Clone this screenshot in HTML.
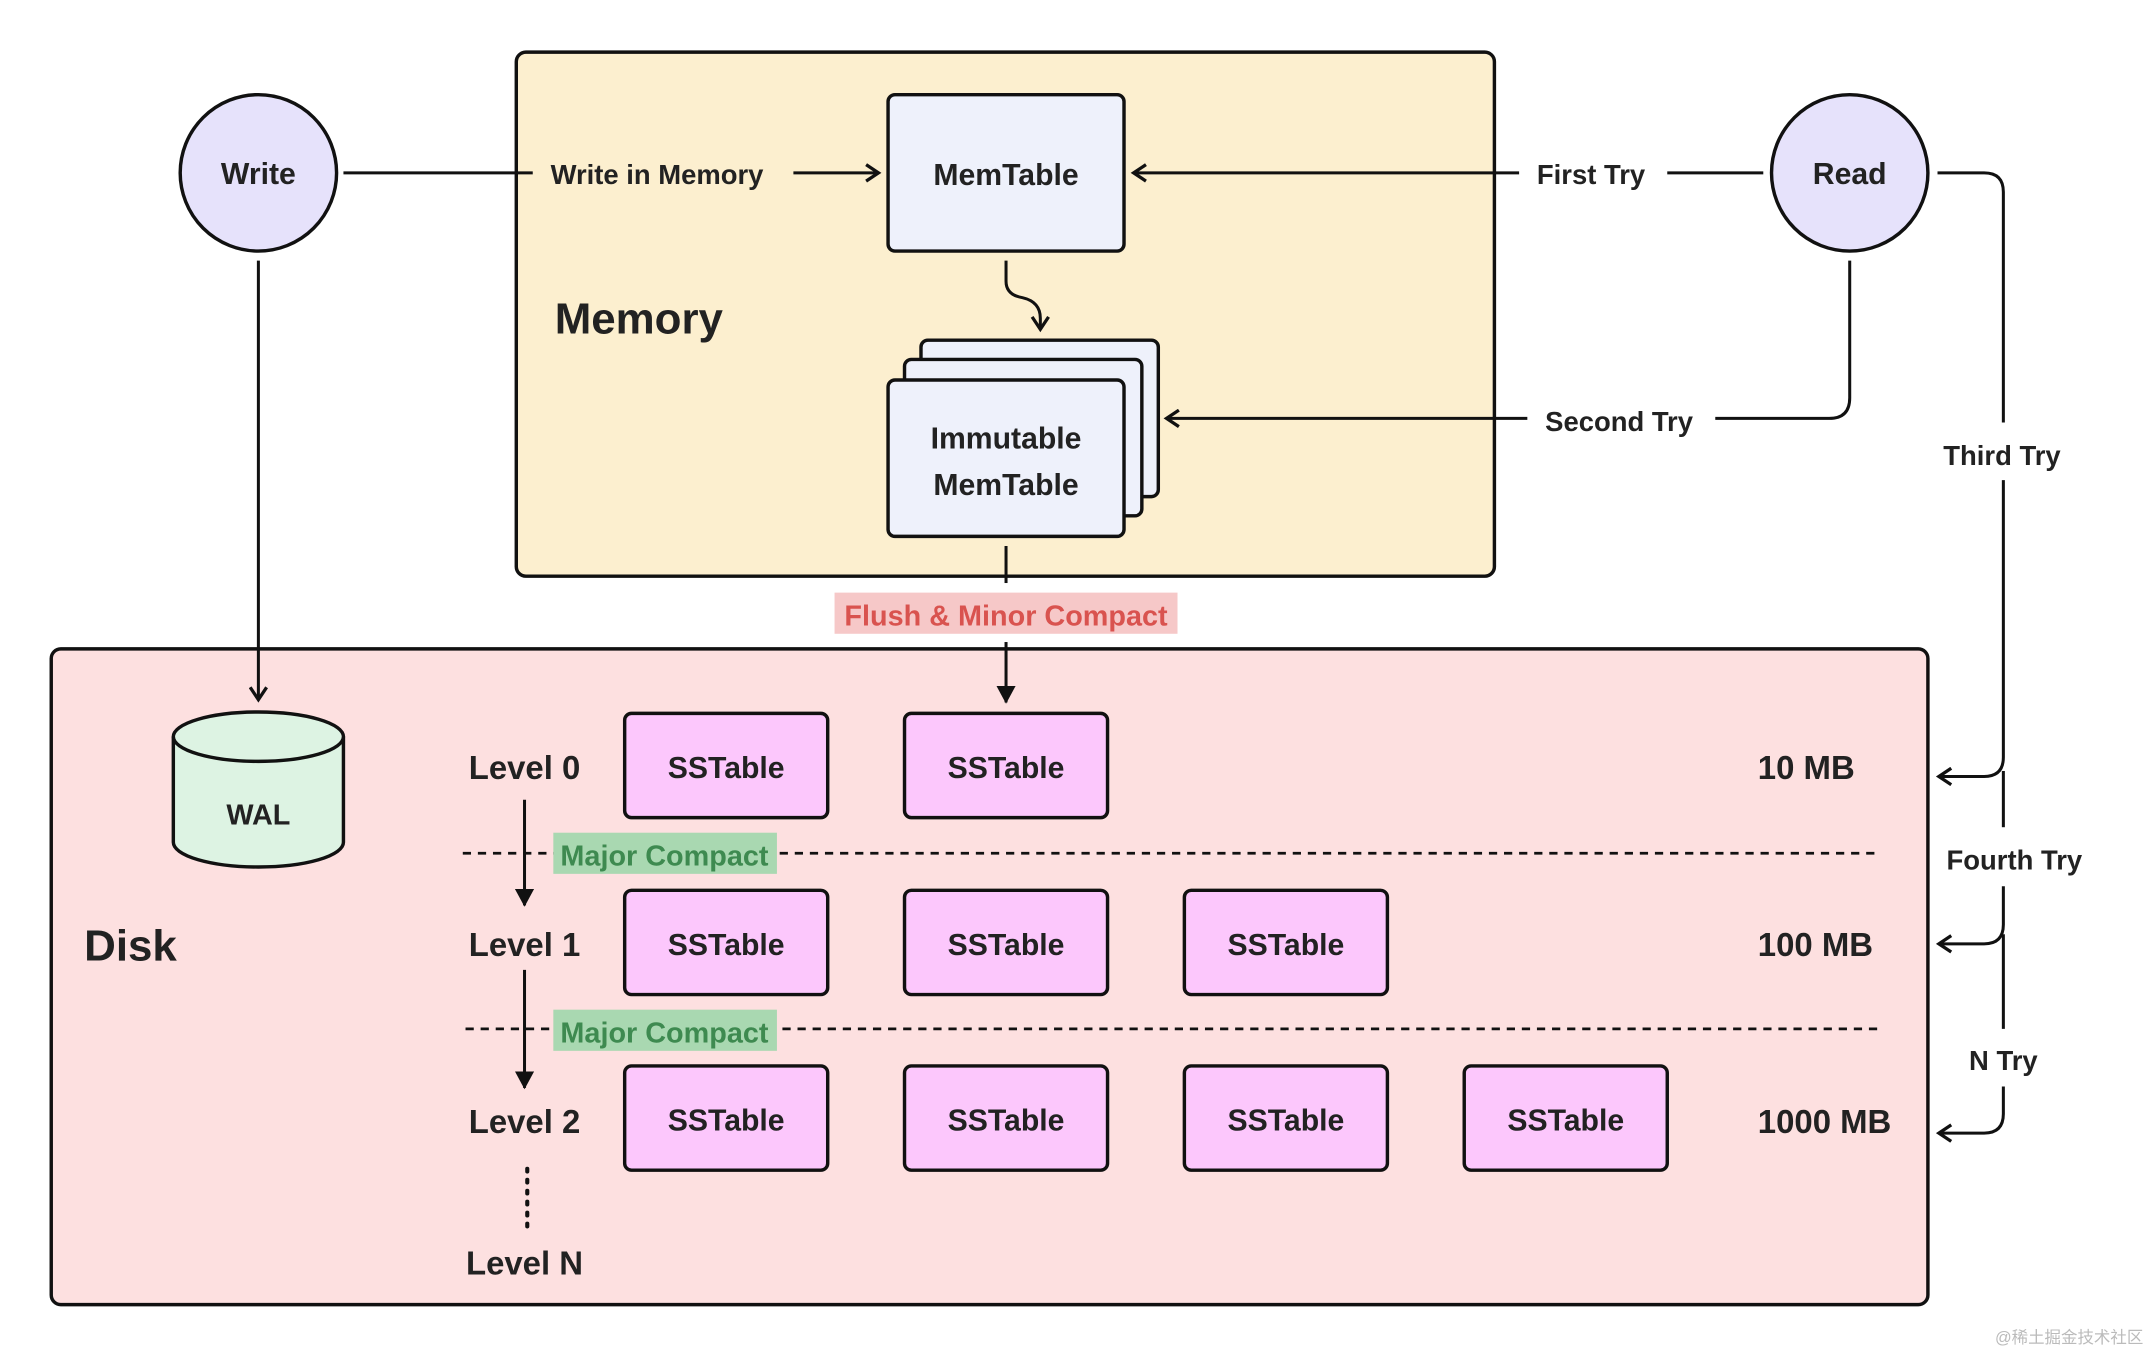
<!DOCTYPE html>
<html><head><meta charset="utf-8"><style>
html,body{margin:0;padding:0;background:#fff;}
svg{display:block;}
text{font-family:"Liberation Sans","DejaVu Sans",sans-serif;font-weight:bold;fill:#222;}
</style></head><body>
<svg width="2152" height="1354" viewBox="0 0 1568 987" xmlns="http://www.w3.org/2000/svg">
<defs>
<marker id="a" markerWidth="14" markerHeight="14" refX="11" refY="7" orient="auto" markerUnits="userSpaceOnUse">
<path d="M2,1 L11,7 L2,13" fill="none" stroke="#111" stroke-width="2.4"/></marker>
<marker id="f" markerWidth="14" markerHeight="14" refX="12" refY="7" orient="auto" markerUnits="userSpaceOnUse">
<path d="M0,0 L13,7 L0,14 z" fill="#111"/></marker>
</defs>
<rect width="1568" height="987" fill="#fff"/>
<rect x="376" y="38" width="713" height="382" rx="7" fill="#fcefcf" stroke="#111" stroke-width="2.5"/>
<text x="404" y="243" font-size="32">Memory</text>
<rect x="37" y="473" width="1368" height="478" rx="7" fill="#fde0e0" stroke="#111" stroke-width="2.5"/>
<text x="61" y="700" font-size="32">Disk</text>
<circle cx="188" cy="126" r="57" fill="#e6e2fb" stroke="#111" stroke-width="2.5"/>
<text x="188" y="134" font-size="22" text-anchor="middle">Write</text>
<circle cx="1348" cy="126" r="57" fill="#e6e2fb" stroke="#111" stroke-width="2.5"/>
<text x="1348" y="134" font-size="22" text-anchor="middle">Read</text>
<rect x="647" y="69" width="172" height="114" rx="5" fill="#eef1fb" stroke="#111" stroke-width="2.5"/>
<text x="733" y="135" font-size="22" text-anchor="middle">MemTable</text>
<rect x="671" y="248" width="173" height="114" rx="5" fill="#eef1fb" stroke="#111" stroke-width="2.5"/>
<rect x="659" y="262" width="173" height="114" rx="5" fill="#eef1fb" stroke="#111" stroke-width="2.5"/>
<rect x="647" y="277" width="172" height="114" rx="5" fill="#eef1fb" stroke="#111" stroke-width="2.5"/>
<text x="733" y="327" font-size="22" text-anchor="middle">Immutable</text>
<text x="733" y="361" font-size="22" text-anchor="middle">MemTable</text>
<path d="M126,537 L126,614 A62,18 0 0 0 250,614 L250,537" fill="#ddf3e3" stroke="#111" stroke-width="2.5"/>
<ellipse cx="188" cy="537" rx="62" ry="18" fill="#ddf3e3" stroke="#111" stroke-width="2.5"/>
<text x="188" y="601" font-size="21" text-anchor="middle">WAL</text>
<g fill="#fcc7fc" stroke="#111" stroke-width="2.5">
<rect x="455" y="520" width="148" height="76" rx="5"/><rect x="659" y="520" width="148" height="76" rx="5"/>
<rect x="455" y="649" width="148" height="76" rx="5"/><rect x="659" y="649" width="148" height="76" rx="5"/><rect x="863" y="649" width="148" height="76" rx="5"/>
<rect x="455" y="777" width="148" height="76" rx="5"/><rect x="659" y="777" width="148" height="76" rx="5"/><rect x="863" y="777" width="148" height="76" rx="5"/><rect x="1067" y="777" width="148" height="76" rx="5"/>
</g>
<g font-size="22" text-anchor="middle">
<text x="529" y="567">SSTable</text><text x="733" y="567">SSTable</text>
<text x="529" y="696">SSTable</text><text x="733" y="696">SSTable</text><text x="937" y="696">SSTable</text>
<text x="529" y="824">SSTable</text><text x="733" y="824">SSTable</text><text x="937" y="824">SSTable</text><text x="1141" y="824">SSTable</text>
</g>
<g font-size="24" text-anchor="middle">
<text x="382" y="568">Level 0</text><text x="382" y="697">Level 1</text><text x="382" y="826">Level 2</text><text x="382" y="929">Level N</text>
</g>
<g font-size="24">
<text x="1281" y="568">10 MB</text><text x="1281" y="697">100 MB</text><text x="1281" y="826">1000 MB</text>
</g>
<line x1="337" y1="622" x2="1370" y2="622" stroke="#111" stroke-width="2" stroke-dasharray="6,5"/>
<line x1="339" y1="750" x2="1372" y2="750" stroke="#111" stroke-width="2" stroke-dasharray="6,5"/>
<rect x="403" y="607" width="163" height="30" fill="#a9d8b1"/>
<rect x="403" y="736" width="163" height="30" fill="#a9d8b1"/>
<text x="484" y="631" font-size="21" text-anchor="middle" style="fill:#3e8a50">Major Compact</text>
<text x="484" y="760" font-size="21" text-anchor="middle" style="fill:#3e8a50">Major Compact</text>
<line x1="382" y1="583" x2="382" y2="660" stroke="#111" stroke-width="2.2" marker-end="url(#f)"/>
<line x1="382" y1="707" x2="382" y2="793" stroke="#111" stroke-width="2.2" marker-end="url(#f)"/>
<line x1="384" y1="852" x2="384" y2="898" stroke="#111" stroke-width="3" stroke-dasharray="2,6" stroke-linecap="round"/>
<rect x="608" y="432" width="250" height="30" fill="#f6c8c8"/>
<text x="733" y="456" font-size="21" text-anchor="middle" style="fill:#d9534f">Flush &amp; Minor Compact</text>
<line x1="733" y1="398" x2="733" y2="425" stroke="#111" stroke-width="2.2"/>
<line x1="733" y1="468" x2="733" y2="512" stroke="#111" stroke-width="2.2" marker-end="url(#f)"/>
<line x1="250" y1="126" x2="388" y2="126" stroke="#111" stroke-width="2.2"/>
<text x="401" y="134" font-size="20">Write in Memory</text>
<line x1="578" y1="126" x2="640" y2="126" stroke="#111" stroke-width="2.2" marker-end="url(#a)"/>
<line x1="188" y1="190" x2="188" y2="510" stroke="#111" stroke-width="2.2" marker-end="url(#a)"/>
<path d="M733,190 L733,205 Q733,215 745,217 Q758,220 758,232 L758,240" fill="none" stroke="#111" stroke-width="2.2" marker-end="url(#a)"/>
<line x1="1285" y1="126" x2="1215" y2="126" stroke="#111" stroke-width="2.2"/>
<text x="1120" y="134" font-size="20">First Try</text>
<line x1="1107" y1="126" x2="826" y2="126" stroke="#111" stroke-width="2.2" marker-end="url(#a)"/>
<path d="M1348,190 L1348,290 Q1348,305 1333,305 L1250,305" fill="none" stroke="#111" stroke-width="2.2"/>
<text x="1126" y="314" font-size="20">Second Try</text>
<line x1="1113" y1="305" x2="850" y2="305" stroke="#111" stroke-width="2.2" marker-end="url(#a)"/>
<path d="M1412,126 L1446,126 Q1460,126 1460,140 L1460,308" fill="none" stroke="#111" stroke-width="2.2"/>
<text x="1459" y="339" font-size="20" text-anchor="middle">Third Try</text>
<path d="M1460,350 L1460,552 Q1460,566 1446,566 L1413,566" fill="none" stroke="#111" stroke-width="2.2" marker-end="url(#a)"/>
<line x1="1460" y1="562" x2="1460" y2="603" stroke="#111" stroke-width="2.2"/>
<text x="1468" y="634" font-size="20" text-anchor="middle">Fourth Try</text>
<path d="M1460,646 L1460,674 Q1460,688 1446,688 L1413,688" fill="none" stroke="#111" stroke-width="2.2" marker-end="url(#a)"/>
<line x1="1460" y1="681" x2="1460" y2="750" stroke="#111" stroke-width="2.2"/>
<text x="1460" y="780" font-size="20" text-anchor="middle">N Try</text>
<path d="M1460,792 L1460,812 Q1460,826 1446,826 L1413,826" fill="none" stroke="#111" stroke-width="2.2" marker-end="url(#a)"/>
<text x="1562" y="979" font-size="12" text-anchor="end" style="fill:#bbb;font-weight:normal">@稀土掘金技术社区</text>
</svg>
</body></html>
